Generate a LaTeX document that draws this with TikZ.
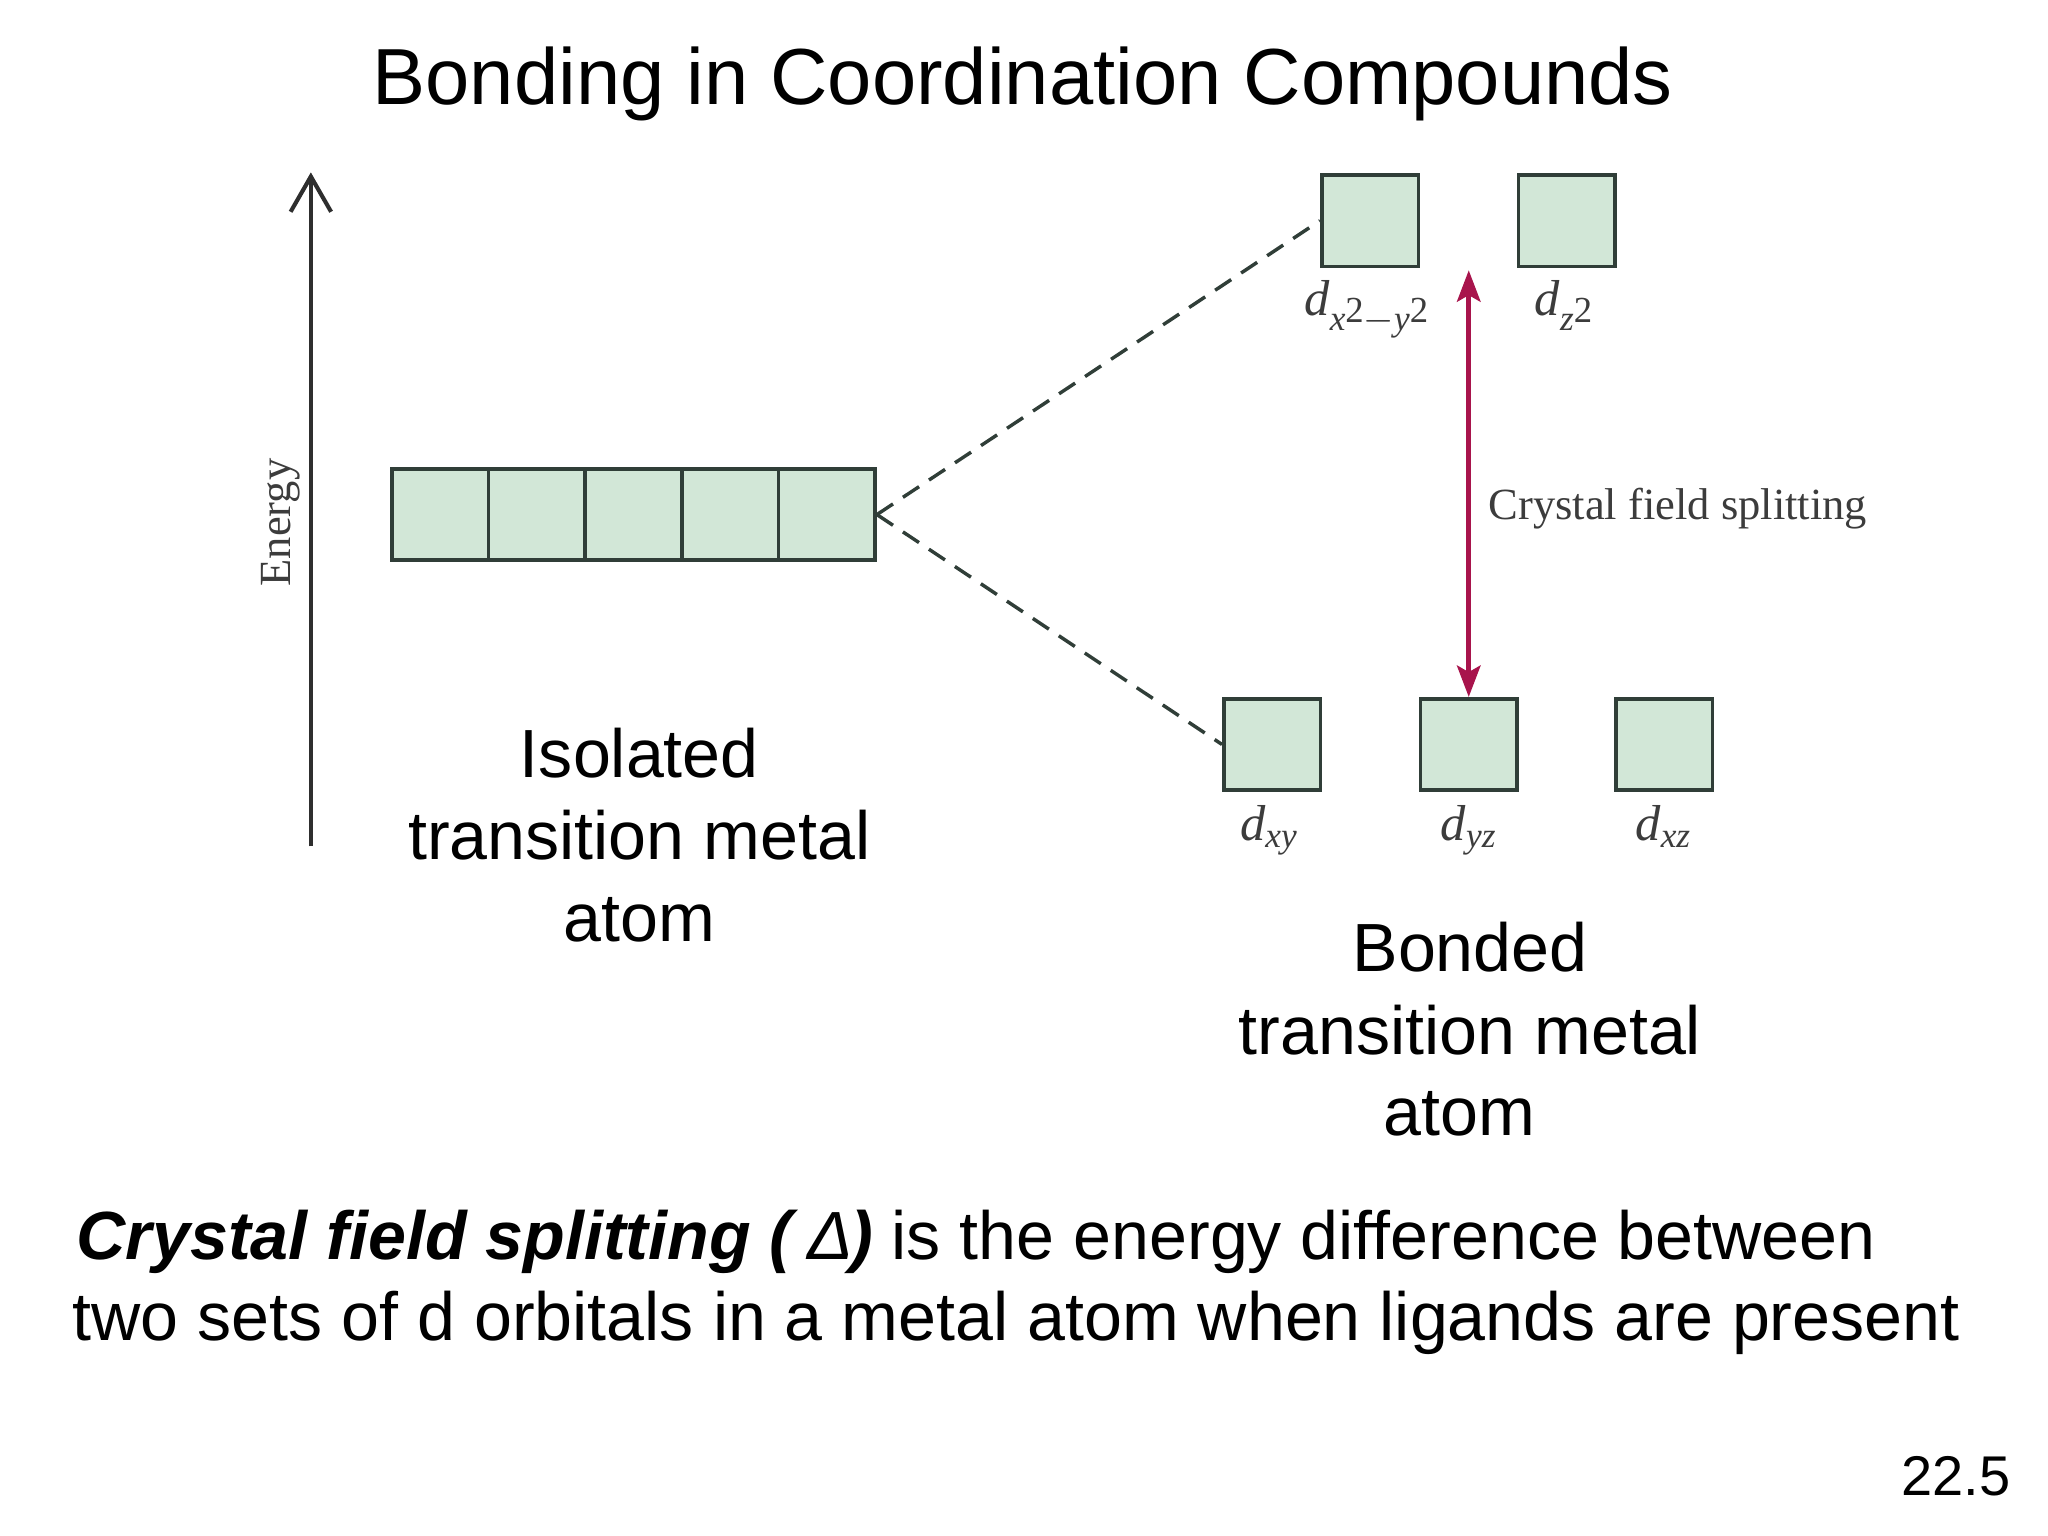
\documentclass[tikz,border=0pt]{standalone}
\usepackage{amsmath}
\usepackage{fontspec}
\setmainfont{Liberation Sans}
\newfontfamily\booktype{Liberation Serif}
\usetikzlibrary{arrows.meta}
\definecolor{orbitalgreen}{RGB}{210,231,215}
\definecolor{orbitaledge}{RGB}{48,62,56}
\definecolor{splitred}{RGB}{168,20,76}
\definecolor{booktext}{RGB}{60,60,60}
\newcommand{\orbtwo}{\raisebox{0.35ex}{\textup{\fontsize{8}{8}\selectfont 2}}}
\tikzset{
  orbital/.style={draw=orbitaledge, fill=orbitalgreen, line width=0.8pt, inner sep=0pt, minimum width=0.74cm, minimum height=0.70cm},
  slidetext/.style={text=black, inner sep=0pt, font=\fontsize{14.85}{17.9}\selectfont},
  booklabel/.style={text=booktext, inner sep=0pt, font=\booktype\fontsize{9.7}{11}\selectfont},
  orblabel/.style={text=booktext, inner sep=0pt, font=\booktype\fontsize{11}{13}\selectfont},
  splitdash/.style={orbitaledge, line width=0.75pt, dash pattern=on 4.2pt off 2.6pt},
}
\begin{document}
\begin{tikzpicture}
\useasboundingbox (0,0) rectangle (15.68,11.76);
% Orbitals
\node[orbital] (isoa) at (3.37,7.82) {};
\node[orbital] (isob) at (4.11,7.82) {};
\node[orbital] (isoc) at (4.85,7.82) {};
\node[orbital] (isod) at (5.59,7.82) {};
\node[orbital] (isoe) at (6.33,7.82) {};
\node[orbital] (dxtwo) at (10.49,10.07) {};
\node[orbital] (dztwo) at (11.995,10.07) {};
\node[orbital] (dxy) at (9.74,6.06) {};
\node[orbital] (dyz) at (11.245,6.06) {};
\node[orbital] (dxz) at (12.74,6.06) {};
% Lines
\coordinate (energybot) at (2.38,5.28);
\coordinate (energytop) at (2.38,10.44);
\coordinate (splittop) at (11.245,9.69);
\draw[-{Straight Barb[length=0.27cm,width=0.31cm]}, black!82, line width=0.9pt] (energybot) -- (energytop);
\draw[splitdash] (isoe.east) -- (dxtwo.west);
\draw[splitdash] (isoe.east) -- (dxy.west);
\draw[{Stealth[length=0.24cm,width=0.18cm,inset=0.05cm]}-{Stealth[length=0.24cm,width=0.18cm,inset=0.05cm]}, splitred, line width=1pt] (splittop) -- (dyz.north);
% Nodes
\node[slidetext, anchor=base, font=\fontsize{17.33}{20}\selectfont] (title) at (7.83,10.96) {Bonding in Coordination Compounds};
\node[booklabel, anchor=mid, rotate=90] (energy) at (2.13,7.76) {Energy};
\node[booklabel, anchor=base west] (splitting) at (11.39,7.78) {Crystal field splitting};
\node[orblabel, anchor=mid] (lblxtwo) at (10.47,9.44) {$\textit{d}_{\textit{x}\orbtwo-\textit{y}\orbtwo}$};
\node[orblabel, anchor=mid] (lblztwo) at (11.98,9.44) {$\textit{d}_{\textit{z}\orbtwo}$};
\node[orblabel, anchor=mid] (lblxy) at (9.72,5.42) {$\textit{d}_{\textit{xy}}$};
\node[orblabel, anchor=mid] (lblyz) at (11.25,5.42) {$\textit{d}_{\textit{yz}}$};
\node[orblabel, anchor=mid] (lblxz) at (12.74,5.42) {$\textit{d}_{\textit{xz}}$};
\node[slidetext, anchor=base] (isoone) at (4.895,5.81) {Isolated};
\node[slidetext, anchor=base] (isotwo) at (4.895,5.18) {transition metal};
\node[slidetext, anchor=base] (isothree) at (4.895,4.55) {atom};
\node[slidetext, anchor=base] (bondone) at (11.255,4.32) {Bonded};
\node[slidetext, anchor=base] (bondtwo) at (11.255,3.69) {transition metal};
\node[slidetext, anchor=base] (bondthree) at (11.175,3.07) {atom};
\node[slidetext, anchor=base west] (defone) at (0.58,2.12) {\textbf{\textit{Crystal field splitting (\hspace{1.8pt}}}\textit{Δ}\kern-0.6pt\textbf{\textit{)}} is the energy difference between};
\node[slidetext, anchor=base west] (deftwo) at (0.55,1.50) {two sets of d orbitals in a metal atom when ligands are present};
\node[slidetext, anchor=base east, font=\fontsize{12.2}{14}\selectfont] (pagenum) at (15.40,0.31) {22.5};
\end{tikzpicture}
\end{document}
